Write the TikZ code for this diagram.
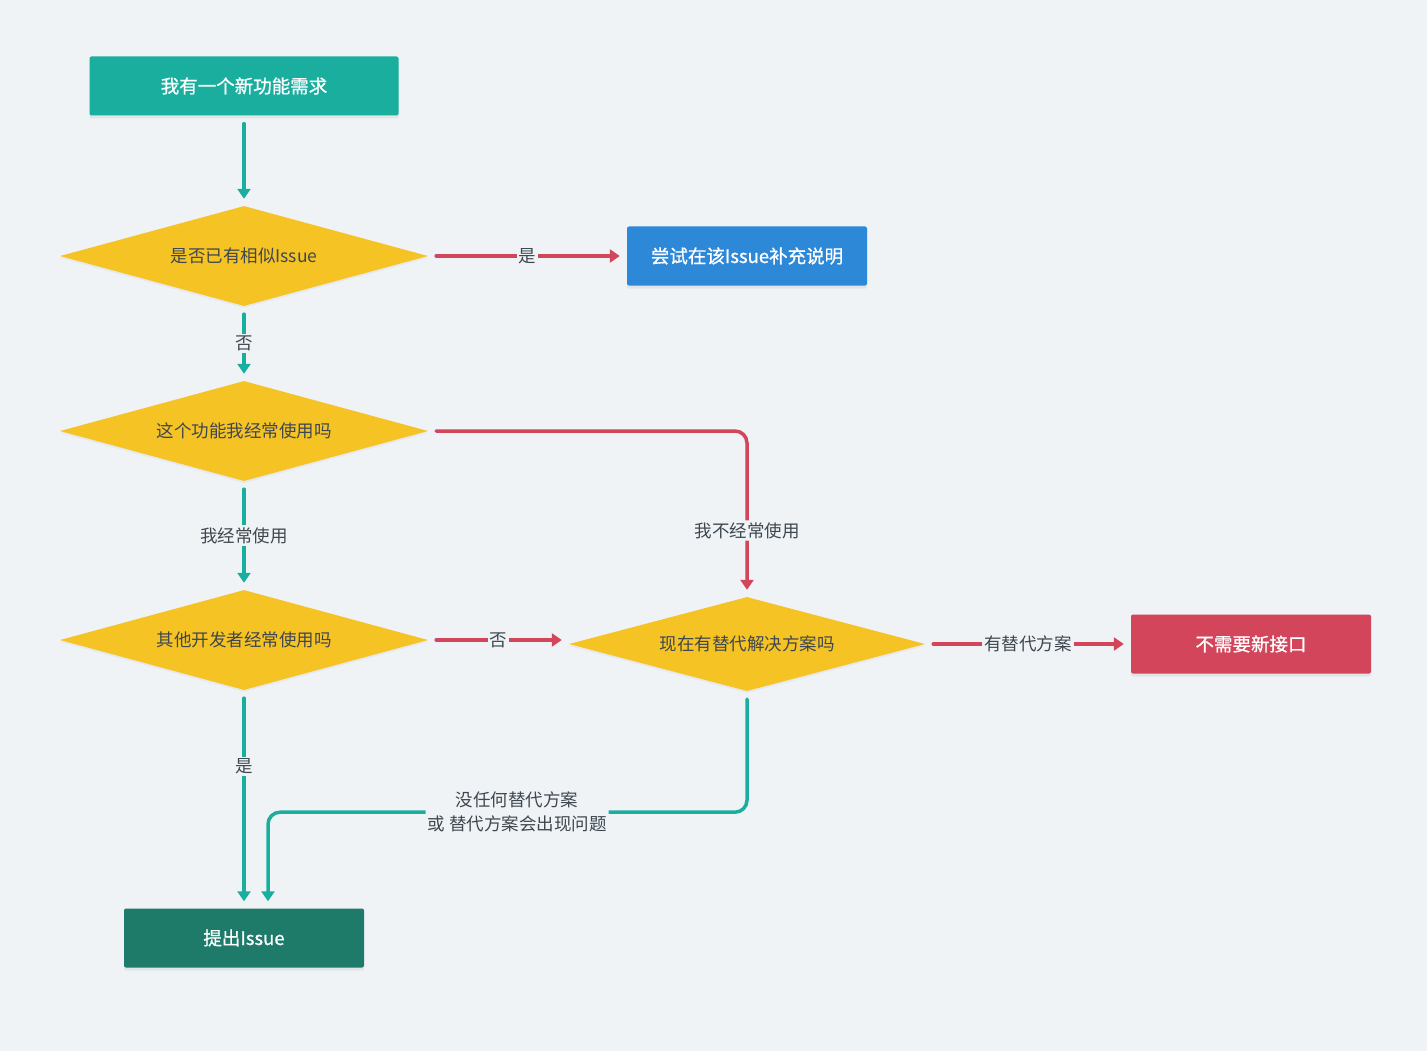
\documentclass[tikz,border=0pt]{standalone}
\usepackage{fontspec}
\newfontfamily\cjk{Noto Sans CJK SC}
\newfontfamily\cjkb[FakeBold=0.8]{Noto Sans CJK SC}
\usetikzlibrary{positioning,shapes.geometric,arrows.meta,shadows}
\definecolor{bgc}{HTML}{EFF3F6}
\definecolor{startc}{HTML}{1AAE9F}
\definecolor{bluec}{HTML}{2D88D8}
\definecolor{yellowc}{HTML}{F6C325}
\definecolor{redc}{HTML}{D3455B}
\definecolor{darkc}{HTML}{1E7A69}
\definecolor{txtc}{HTML}{3E474F}
\def\bigtxt{\cjkb\fontsize{18.5}{22}\selectfont}
\def\smalltxt{\cjk\fontsize{17.5}{24}\selectfont}

\begin{document}
\begin{tikzpicture}[x=1pt,y=1pt,on grid,
	box/.style={rectangle,rounded corners=2pt,minimum width=240pt,minimum height=59pt,text=white,font=\bigtxt,drop shadow={shadow xshift=0pt,shadow yshift=-3pt,opacity=0.12}},
	query/.style={diamond,shape aspect=3.68,fill=yellowc,minimum width=368pt,minimum height=100pt,inner sep=0pt,text=txtc,font=\smalltxt,drop shadow={shadow xshift=0pt,shadow yshift=-2pt,opacity=0.08}},
	yes/.style={draw=startc,line width=3.5pt,line cap=round,shorten >=7pt,shorten <=8pt,-{Triangle[width=13pt,length=10pt]}},
	no/.style={draw=redc,line width=3.5pt,line cap=round,shorten >=7pt,shorten <=8pt,-{Triangle[width=13pt,length=10pt]}},
	lbl/.style={fill=bgc,text=txtc,font=\smalltxt,inner sep=2pt,align=center}]

\fill[bgc] (0,0) rectangle (1427,-1051);

\node[box,fill=startc,minimum width=309pt]		(start)		at (244,-86)				{我有一个新功能需求};
\node[query]									(q_dup)		[below=170pt of start]		{是否已有相似Issue};
\node[box,fill=bluec]							(addinfo)	[right=503pt of q_dup]		{尝试在该Issue补充说明};
\node[query]									(q_self)	[below=175pt of q_dup]		{这个功能我经常使用吗};
\node[query]									(q_others)	[below=209pt of q_self]		{其他开发者经常使用吗};
\node[query,minimum width=356pt,minimum height=94pt]	(q_alt)	[below right=4pt and 503pt of q_others]	{现在有替代解决方案吗};
\node[box,fill=redc]							(noneed)	[right=504pt of q_alt]		{不需要新接口};
\node[box,fill=darkc]							(issue)		[below=298pt of q_others]	{提出Issue};

\path
(start)		edge	[yes]									(q_dup)
(q_dup)		edge	[no]	node[lbl]				{是}		(addinfo)
			edge	[yes]	node[lbl]				{否}		(q_self)
(q_self)	edge	[yes]	node[lbl]				{我经常使用}	(q_others)
(q_others)	edge	[no]	node[lbl]				{否}		(q_others -| q_alt.west)
			edge	[yes]	node[lbl,pos=0.35]		{是}		(issue)
(q_alt)		edge	[no]	node[lbl]				{有替代方案}	(noneed)
;

\draw[no,rounded corners=12pt] (q_self.east) -| node[lbl,pos=0.8] {我不经常使用} (q_alt.north);
\draw[yes,rounded corners=12pt] (q_alt.south) -- ++(0,-121) -| node[lbl,pos=0.24] {没任何替代方案\\或 替代方案会出现问题} ([xshift=24pt]issue.north);
\end{tikzpicture}
\end{document}
